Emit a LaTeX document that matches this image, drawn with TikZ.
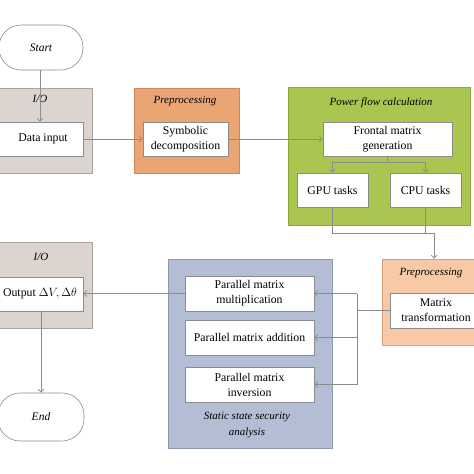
\documentclass[tikz,border=0pt]{standalone}
\usepackage{fontspec}
\setmainfont{Liberation Serif}
\usetikzlibrary{arrows.meta}
\definecolor{iofill}{HTML}{DBD4CF}
\definecolor{iodraw}{HTML}{ABA39C}
\definecolor{preafill}{HTML}{EBA574}
\definecolor{preadraw}{HTML}{C88A5C}
\definecolor{prebfill}{HTML}{F7C9A7}
\definecolor{prebdraw}{HTML}{D9A07A}
\definecolor{greenfill}{HTML}{A8C650}
\definecolor{greendraw}{HTML}{8AA83C}
\definecolor{bluefill}{HTML}{B3BED5}
\definecolor{bluedraw}{HTML}{8E9AB5}
\definecolor{linec}{HTML}{8C8C8C}
\tikzset{
  container/.style={draw, line width=0.8pt, inner sep=0pt},
  wbox/.style={draw=linec, fill=white, line width=0.6pt, inner sep=0pt, align=center,
    font=\fontsize{11.8}{15}\selectfont},
  ttl/.style={font=\fontsize{11}{16}\selectfont\itshape, align=center, inner sep=0pt},
  term/.style={draw=linec, fill=white, line width=0.6pt, rounded corners=22pt, inner sep=0pt,
    font=\fontsize{11.5}{13}\selectfont\itshape},
  conn/.style={draw=linec, line width=0.7pt},
  arr/.style={conn, -{Straight Barb[length=3pt,width=6pt]}}
}
\begin{document}
\begin{tikzpicture}[x=1pt,y=-1pt]
\useasboundingbox (0,0) rectangle (474,474);
\clip (0,0) rectangle (474,474);
\fill[white] (0,0) rectangle (474,474);
% containers
\node[container, draw=iodraw, fill=iofill, minimum width=105, minimum height=85] (io1) at (39.5,130.5) {};
\node[container, draw=preadraw, fill=preafill, minimum width=105, minimum height=85] (pre1) at (186.5,130.5) {};
\node[container, draw=greendraw, fill=greenfill, minimum width=182, minimum height=138] (pfc) at (379,156) {};
\node[container, draw=prebdraw, fill=prebfill, minimum width=100, minimum height=86] (pre2) at (432,302) {};
\node[container, draw=bluedraw, fill=bluefill, minimum width=164, minimum height=189] (sssa) at (250,353.5) {};
\node[container, draw=iodraw, fill=iofill, minimum width=105, minimum height=86] (io2) at (39.5,285) {};
% titles
\node[ttl] (io1t) at (40,99) {I/O};
\node[ttl] (pre1t) at (185,101) {Preprocessing};
\node[ttl] (pfct) at (381,103) {Power flow calculation};
\node[ttl] (pre2t) at (431,273) {Preprocessing};
\node[ttl] (io2t) at (41,257) {I/O};
\node[ttl] (sssat) at (247,425) {Static state security\\analysis};
% terminals
\node[term, minimum width=84, minimum height=45] (start) at (41,47.5) {Start};
\node[term, minimum width=86, minimum height=48] (end) at (41,417) {End};
% boxes
\node[wbox, minimum width=96, minimum height=34] (din) at (35,139) {\hspace*{16pt}Data input};
\node[wbox, minimum width=85, minimum height=34] (sym) at (185.5,139) {Symbolic\\decomposition};
\node[wbox, minimum width=129, minimum height=34] (fmg) at (387.5,139) {Frontal matrix\\generation};
\node[wbox, minimum width=71, minimum height=34] (gpu) at (332.5,190) {GPU tasks};
\node[wbox, minimum width=71, minimum height=34] (cpu) at (425.5,190) {CPU tasks};
\node[wbox, minimum width=92, minimum height=35] (mt) at (436,310.5) {Matrix\\transformation};
\node[wbox, minimum width=129, minimum height=35] (pmm) at (249.5,293.5) {Parallel matrix\\multiplication};
\node[wbox, minimum width=129, minimum height=35] (pma) at (249.5,337.5) {Parallel matrix addition};
\node[wbox, minimum width=129, minimum height=35] (pmi) at (249.5,384.5) {Parallel matrix\\inversion};
\node[wbox, minimum width=96, minimum height=34] (out) at (35,294) {\hspace*{10pt}Output $\Delta V, \Delta\theta$};
% connectors
\draw[arr] (start.south -| 40,0) -- (din.north -| 40,0);
\draw[arr] (din.east) -- (sym.west);
\draw[arr] (sym.east) -- (fmg.west);
\coordinate (split) at (387.5,162);
\draw[conn] (fmg.south) -- (split);
\draw[arr] (split) -| (gpu.north);
\draw[arr] (split) -| (cpu.north);
\coordinate (merge) at (434,233);
\draw[conn] (cpu.south) -- (cpu.south |- merge);
\draw[arr] (gpu.south) |- (merge) -- (merge |- pre2.north);
\coordinate (bus) at (357,310.5);
\draw[conn] (mt.west) -- (bus);
\draw[conn] (bus |- pmm.east) -- (bus |- pmi.east);
\draw[arr] (bus |- pmm.east) -- (pmm.east);
\draw[arr] (bus |- pma.east) -- (pma.east);
\draw[arr] (bus |- pmi.east) -- (pmi.east);
\draw[arr] (pmm.west) -- (pmm.west -| out.east);
\draw[arr] (out.south -| end.north) -- (end.north);
\end{tikzpicture}
\end{document}
